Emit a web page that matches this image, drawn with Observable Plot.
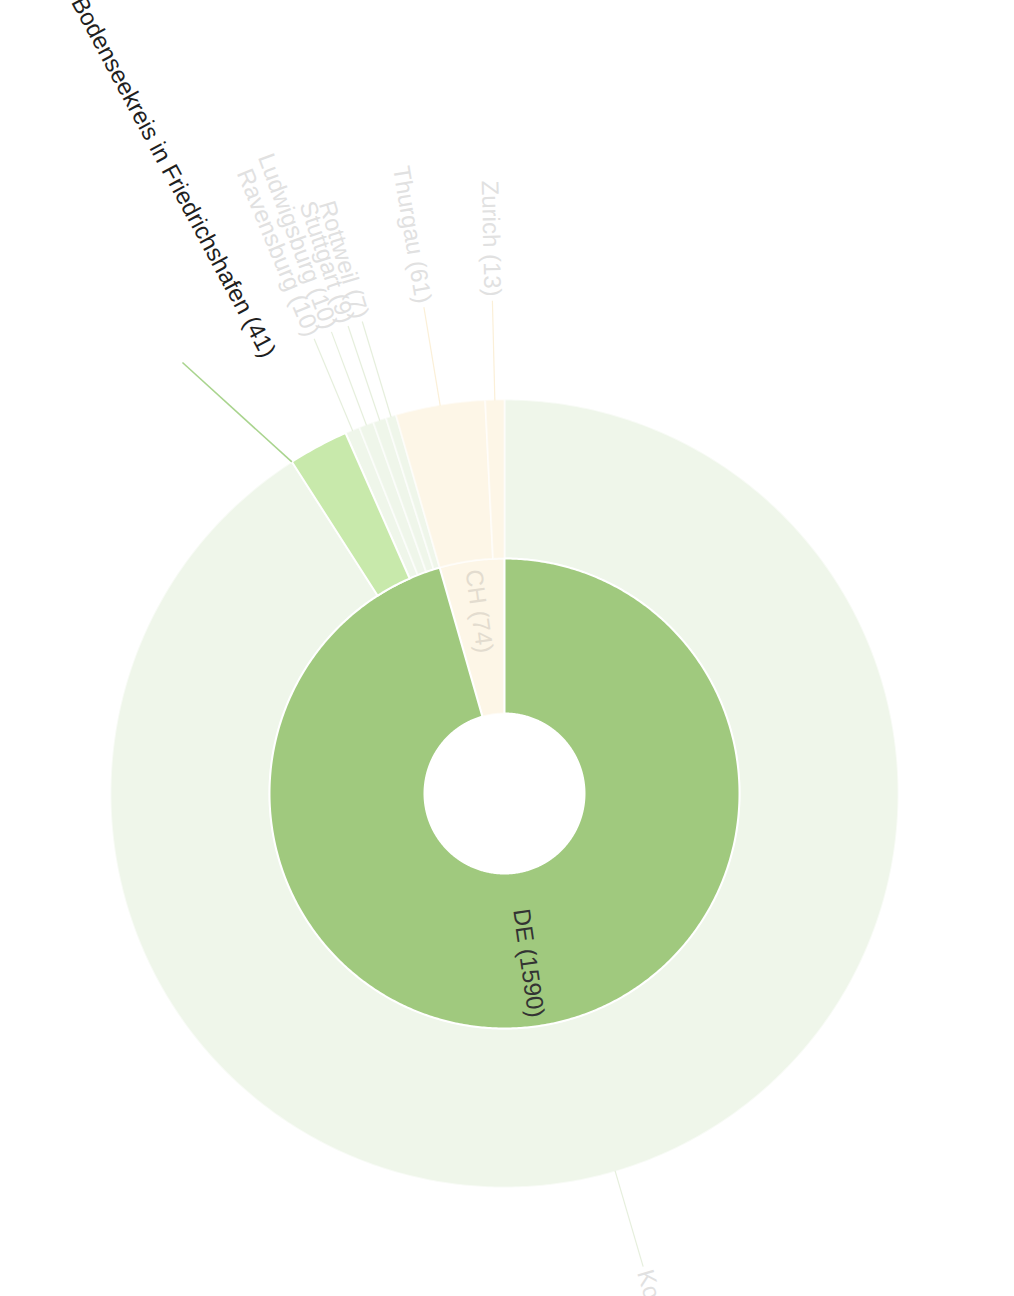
<!DOCTYPE html>
<html>
<head>
<meta charset="utf-8">
<script src="https://cdn.jsdelivr.net/npm/d3@7"></script>
<script src="https://cdn.jsdelivr.net/npm/@observablehq/plot@0.6"></script>
<style>
  html, body { margin: 0; padding: 0; background: #fff; overflow: hidden; }
  #chart svg { display: block; }
</style>
</head>
<body>
<div id="chart"></div>
<script>
// ---- data ----
const countries = ["DE", "CH"];
const countryCounts = [1590, 74];
const regions = ["Konstanz", "Bodenseekreis in Friedrichshafen", "Ravensburg", "Ludwigsburg", "Stuttgart", "Rottweil", "Thurgau", "Zurich"];
const regionParents = ["DE", "DE", "DE", "DE", "DE", "DE", "CH", "CH"];
const regionCounts = [1513, 41, 10, 10, 9, 7, 61, 13];
const highlightedRegion = "Bodenseekreis in Friedrichshafen";

// ---- styling / layout ----
const W = 1014, H = 1296, CX = 504, CY = 793;
const R0 = 80, R1 = 235, R2 = 394;
const FONT = "'Liberation Sans', Arial, Helvetica, sans-serif";
const FS = 24;
const palette = {
  DE: {hi: "#a0c97e", hiChild: "#c8e9ab", faded: "#eff6ea", line: "#e6efdd", hiLine: "#a9d48e"},
  CH: {hi: "#fac858", hiChild: "#fac858", faded: "#fdf6e7", line: "#fbf0d8", hiLine: "#fac858"}
};

const total = d3.sum(countryCounts);
const highlightedParent = regionParents[regions.indexOf(highlightedRegion)];

// ---- build segments ----
let acc = 0;
const inner = countries.map((c, i) => {
  const a0 = acc / total * 360; acc += countryCounts[i];
  const hi = c === highlightedParent;
  return {name: c, value: countryCounts[i], a0, a1: acc / total * 360, r0: R0, r1: R1, depth: 1, hi,
          fill: hi ? palette[c].hi : palette[c].faded};
});
acc = 0;
const outer = regions.map((r, i) => {
  const a0 = acc / total * 360; acc += regionCounts[i];
  const p = regionParents[i];
  const hi = r === highlightedRegion;
  return {name: r, parent: p, value: regionCounts[i], a0, a1: acc / total * 360, r0: R1, r1: R2, depth: 2, hi,
          fill: hi ? palette[p].hiChild : palette[p].faded,
          line: hi ? palette[p].hiLine : palette[p].line};
});
const segments = [...inner, ...outer];

const rad = a => a * Math.PI / 180;
const polar = (r, a) => ({x: r * Math.sin(rad(a)), y: -r * Math.cos(rad(a))});

function arcPoints(s) {
  const n = Math.max(2, Math.ceil((s.a1 - s.a0) / 0.5));
  const pts = [];
  for (let k = 0; k <= n; k++) pts.push(polar(s.r1, s.a0 + (s.a1 - s.a0) * k / n));
  for (let k = n; k >= 0; k--) pts.push(polar(s.r0, s.a0 + (s.a1 - s.a0) * k / n));
  pts.push(pts[0]);
  return pts;
}

// ---- labels ----
function labelFor(s) {
  const mid = (s.a0 + s.a1) / 2;
  const outward = Math.sin(rad(mid)) >= 0; // reading direction
  const rotate = outward ? mid - 90 : mid + 90;
  let r, anchor;
  if (s.depth === 1) { r = 226; anchor = outward ? "end" : "start"; }
  else { r = 497; anchor = outward ? "start" : "end"; }
  const p = polar(r, mid);
  return {text: `${s.name} (${s.value})`, x: p.x, y: p.y, rotate, anchor,
          color: s.hi ? (s.depth === 2 ? "#1f1f1f" : "#333333") : (s.depth === 1 && s.name === "CH" ? "#e3dccf" : "#e1e1e1")};
}
const labels = segments.map(labelFor);

// leader lines for outer ring
const leaders = outer.map(s => {
  const mid = (s.a0 + s.a1) / 2;
  const p1 = s.hi ? polar(R2, s.a0) : polar(R2 - 1, mid);
  const p2 = s.hi ? polar(538, s.a0 - 4.1) : polar(493, mid);
  return {x1: p1.x, y1: p1.y, x2: p2.x, y2: p2.y, color: s.line, hi: s.hi};
});

// ---- marks ----
const ordered = [...segments.filter(s => !s.hi), ...segments.filter(s => s.hi)];
const arcMarks = ordered.map(s => Plot.line(arcPoints(s), {
  x: "x", y: "y", fill: s.fill, stroke: "#ffffff",
  strokeOpacity: s.hi ? 1 : 0.55, strokeWidth: 2, strokeLinejoin: "round"
}));

const textMark = anchor => Plot.text(labels.filter(d => d.anchor === anchor), {
  x: "x", y: "y", text: "text", rotate: "rotate", fill: "color",
  textAnchor: anchor, lineAnchor: "middle", fontSize: FS, fontFamily: FONT
});

const chart = Plot.plot({
  width: W, height: H, margin: 0,
  x: {domain: [-CX, W - CX], range: [0, W], axis: null},
  y: {domain: [-CY, H - CY], range: [0, H], axis: null},
  color: {type: "identity"},
  style: {background: "#ffffff", overflow: "hidden", fontFamily: FONT},
  marks: [
    ...arcMarks,
    Plot.link(leaders.filter(d => !d.hi), {x1: "x1", y1: "y1", x2: "x2", y2: "y2", stroke: "color", strokeWidth: 1.2}),
    Plot.link(leaders.filter(d => d.hi), {x1: "x1", y1: "y1", x2: "x2", y2: "y2", stroke: "color", strokeWidth: 1.6}),
    textMark("start"),
    textMark("end")
  ]
});
document.getElementById("chart").appendChild(chart);
</script>
</body>
</html>
